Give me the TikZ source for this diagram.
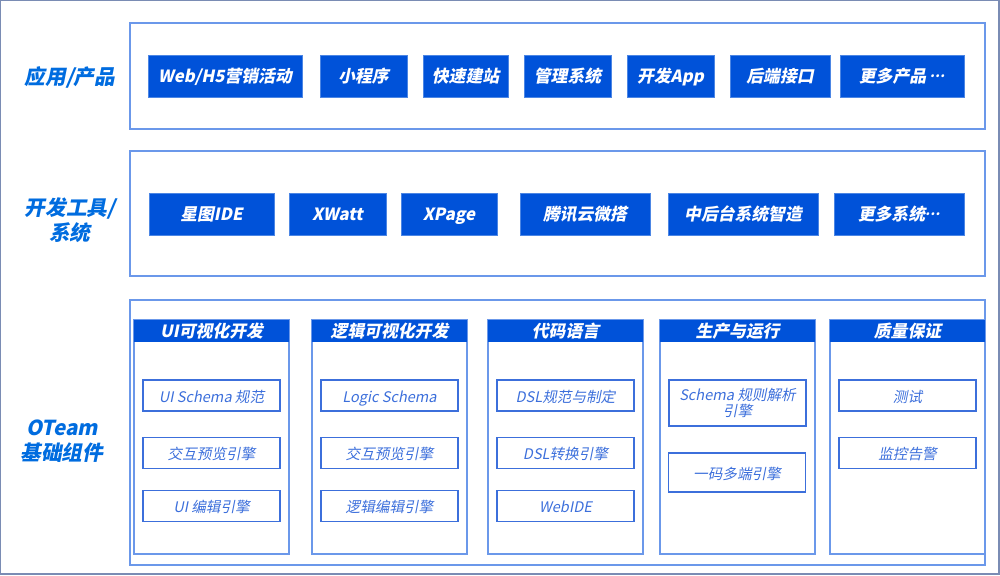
\documentclass[tikz,border=0pt]{standalone}
\usepackage{fontspec}
\usepackage{tikz}
\newfontfamily\cjk{Noto Sans CJK SC}[FakeSlant=0.2, BoldFeatures={FakeSlant=0.2}]
\definecolor{tblue}{HTML}{0052D9}
\definecolor{lineblue}{HTML}{6B98EA}
\definecolor{itemblue}{HTML}{3C6FDB}
\definecolor{frame}{HTML}{7A8CB4}
\newcommand{\midots}{\raisebox{0.3em}{\scalebox{0.8}{…}}}
\tikzset{
  btn/.style={fill=tblue, draw=tblue!70, text=white, inner sep=0pt,
    minimum height=21pt, text height=0.8em, text depth=0.15em,
    font=\cjk\bfseries\fontsize{8.4}{10}\selectfont},
  colhead/.style={fill=tblue, text=white, inner sep=0pt, minimum width=77.5pt,
    minimum height=11pt, text height=0.8em, text depth=0.15em,
    font=\cjk\bfseries\fontsize{8.4}{9}\selectfont},
  itembox/.style={draw=itemblue, line width=0.6pt, text=itemblue, inner sep=0pt,
    minimum width=68.5pt, minimum height=15.5pt, align=center,
    font=\cjk\fontsize{7.3}{7.8}\selectfont},
  item/.style={itembox, text height=0.8em, text depth=0.15em},
  layer/.style={draw=lineblue, line width=0.7pt},
  lbl/.style={text=tblue!85!cyan, align=center,
    font=\cjk\bfseries\fontsize{10.3}{12.5}\selectfont}
}
\begin{document}
\begin{tikzpicture}[x=0.5pt, y=-0.5pt]
  \useasboundingbox (0,0) rectangle (1000,575);
  \draw[frame, line width=0.8pt] (0.5,0.5) rectangle (999,574);
  % layers
  \draw[layer] (130,23) rectangle (985,129);
  \draw[layer] (130,151) rectangle (985,276);
  \draw[layer] (130,300) rectangle (985,565);
  \node[lbl] (app) at (70,77) {应用/产品};
  \node[lbl] (dev) at (70,220) {开发工具/\\系统};
  \node[lbl] (base) at (62,441) {OTeam\\基础组件};
  % application layer
  \node[btn, minimum width=77pt] (web) at (225,76) {Web/H5营销活动};
  \node[btn, minimum width=43.5pt] (mini) at (363.5,76) {小程序};
  \node[btn, minimum width=42.5pt] (site) at (465.5,76) {快速建站};
  \node[btn, minimum width=43.5pt] (mgmt) at (567.5,76) {管理系统};
  \node[btn, minimum width=43.5pt] (devapp) at (670.5,76) {开发App};
  \node[btn, minimum width=50pt] (backend) at (780,76) {后端接口};
  \node[btn, minimum width=62pt] (moreprod) at (902,76) {更多产品 \midots};
  % tool layer
  \node[btn, minimum width=62.5pt] (xingtu) at (211.5,214) {星图IDE};
  \node[btn, minimum width=48.5pt] (xwatt) at (337.5,214) {XWatt};
  \node[btn, minimum width=48pt] (xpage) at (449,214) {XPage};
  \node[btn, minimum width=65pt] (weida) at (585,214) {腾讯云微搭};
  \node[btn, minimum width=75pt] (zhizao) at (743,214) {中后台系统智造};
  \node[btn, minimum width=65pt] (moresys) at (899,214) {更多系统\midots};
  % base layer columns
  \draw[layer] (134,320) rectangle (289,554);
  \draw[layer] (312,320) rectangle (467,554);
  \draw[layer] (488,320) rectangle (643,554);
  \draw[layer] (660,320) rectangle (815,554);
  \draw[layer] (830,320) rectangle (985,554);
  \node[colhead] (uihead) at (211.5,331) {UI可视化开发};
  \node[colhead] (logichead) at (389.5,331) {逻辑可视化开发};
  \node[colhead] (codehead) at (565.5,331) {代码语言};
  \node[colhead] (runhead) at (737.5,331) {生产与运行};
  \node[colhead] (qahead) at (907.5,331) {质量保证};
  \node[item] (uischema) at (211.5,395.5) {UI Schema 规范};
  \node[item] (uipreview) at (211.5,453) {交互预览引擎};
  \node[item] (uiedit) at (211.5,506) {UI 编辑引擎};
  \node[item] (logicschema) at (389.5,395.5) {Logic Schema};
  \node[item] (logicpreview) at (389.5,453) {交互预览引擎};
  \node[item] (logicedit) at (389.5,506) {逻辑编辑引擎};
  \node[item] (dsl) at (565.5,395.5) {DSL规范与制定};
  \node[item] (dslconv) at (565.5,453) {DSL转换引擎};
  \node[item] (webide) at (565.5,506) {WebIDE};
  \node[itembox, minimum height=23pt] (parser) at (737.5,403) {Schema 规则解析\\引擎};
  \node[item, minimum height=19.5pt] (multi) at (737,472.5) {一码多端引擎};
  \node[item] (test) at (907.5,395.5) {测试};
  \node[item] (monitor) at (907.5,453) {监控告警};
\end{tikzpicture}
\end{document}
